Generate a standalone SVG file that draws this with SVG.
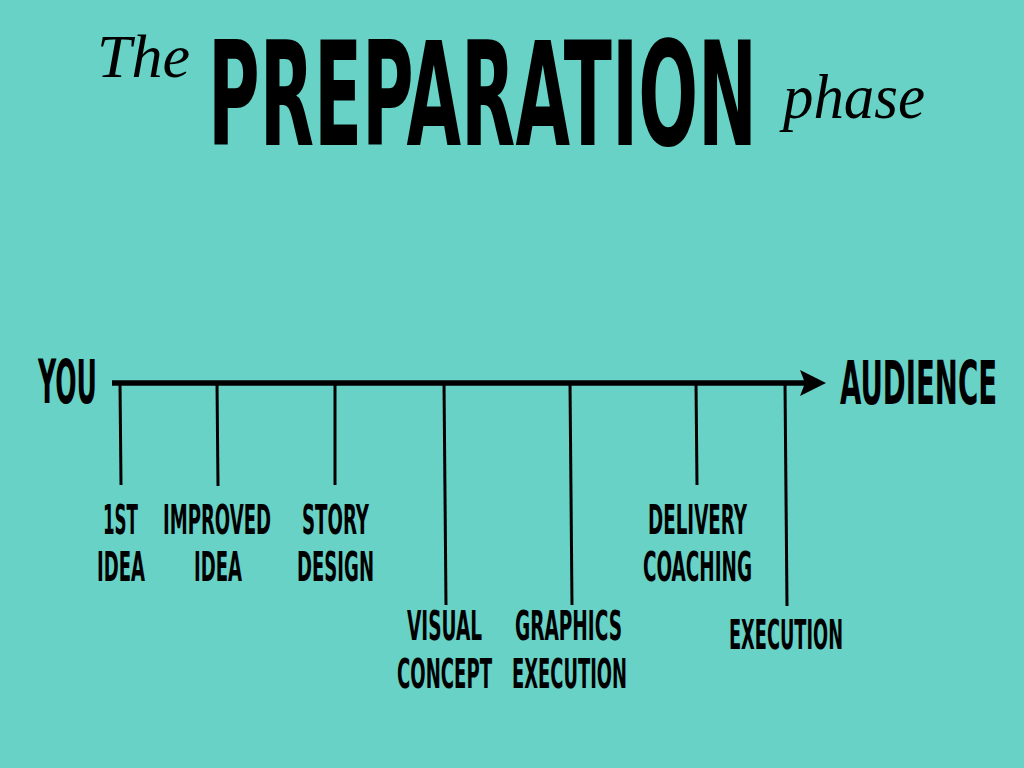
<svg xmlns="http://www.w3.org/2000/svg" width="1024" height="768" viewBox="0 0 1024 768">
<style>
.bg{fill:#67D2C5}
.cond{font-family:"Liberation Sans Narrow","DejaVu Sans Condensed","Liberation Sans",sans-serif;font-weight:bold;fill:#000}
.lbl{font-size:40px}
.big{font-size:60px}
.script{font-family:"Liberation Serif","DejaVu Serif",serif;font-style:italic;fill:#000}
.tick{stroke:#000;stroke-width:3;fill:none}
.axis{stroke:#000;stroke-width:5.5;fill:none}
.head{fill:#000}
</style>
<rect class="bg" x="0" y="0" width="1024" height="768"/>
<g id="title">
<text class="script" x="97" y="77" font-size="62" textLength="93" lengthAdjust="spacingAndGlyphs">The</text>
<text class="cond" transform="translate(208,145) scale(0.53,1)" x="0" y="0" font-size="144" textLength="1036" lengthAdjust="spacingAndGlyphs">PREPARATION</text>
<text class="script" x="783" y="118" font-size="64" textLength="142" lengthAdjust="spacingAndGlyphs">phase</text>
</g>
<g id="connectors">
<line class="axis" x1="112" y1="383" x2="806" y2="383"/>
<path class="head" d="M800,370 L826,383 L800,396 L805,383 Z"/>
<line class="tick" x1="120" y1="383" x2="121" y2="485"/>
<line class="tick" x1="217" y1="383" x2="218" y2="486"/>
<line class="tick" x1="335" y1="383" x2="335" y2="485"/>
<line class="tick" x1="444" y1="383" x2="446" y2="605"/>
<line class="tick" x1="570" y1="383" x2="572" y2="605"/>
<line class="tick" x1="696" y1="383" x2="697" y2="485"/>
<line class="tick" x1="785" y1="383" x2="787" y2="606"/>
</g>
<g id="you"><text class="cond big" transform="translate(38,403) scale(0.5,1)" x="0" y="0" textLength="118" lengthAdjust="spacingAndGlyphs">YOU</text></g>
<g id="audience"><text class="cond big" transform="translate(840,404) scale(0.5,1)" x="0" y="0" font-size="61" textLength="314" lengthAdjust="spacingAndGlyphs">AUDIENCE</text></g>
<g id="n-1st-idea">
<text class="cond lbl" transform="translate(103,534) scale(0.5,1)" x="0" y="0" textLength="70" lengthAdjust="spacingAndGlyphs">1ST</text>
<text class="cond lbl" transform="translate(97,581) scale(0.5,1)" x="0" y="0" textLength="96" lengthAdjust="spacingAndGlyphs">IDEA</text>
</g>
<g id="n-improved-idea">
<text class="cond lbl" transform="translate(163,534) scale(0.5,1)" x="0" y="0" textLength="216" lengthAdjust="spacingAndGlyphs">IMPROVED</text>
<text class="cond lbl" transform="translate(194,581) scale(0.5,1)" x="0" y="0" textLength="96" lengthAdjust="spacingAndGlyphs">IDEA</text>
</g>
<g id="n-story-design">
<text class="cond lbl" transform="translate(302,534) scale(0.5,1)" x="0" y="0" textLength="134" lengthAdjust="spacingAndGlyphs">STORY</text>
<text class="cond lbl" transform="translate(297,581) scale(0.5,1)" x="0" y="0" textLength="154" lengthAdjust="spacingAndGlyphs">DESIGN</text>
</g>
<g id="n-visual-concept">
<text class="cond lbl" transform="translate(407,640) scale(0.5,1)" x="0" y="0" textLength="150" lengthAdjust="spacingAndGlyphs">VISUAL</text>
<text class="cond lbl" transform="translate(397,688) scale(0.5,1)" x="0" y="0" textLength="190" lengthAdjust="spacingAndGlyphs">CONCEPT</text>
</g>
<g id="n-graphics-execution">
<text class="cond lbl" transform="translate(515,640) scale(0.5,1)" x="0" y="0" textLength="214" lengthAdjust="spacingAndGlyphs">GRAPHICS</text>
<text class="cond lbl" transform="translate(512,688) scale(0.5,1)" x="0" y="0" textLength="230" lengthAdjust="spacingAndGlyphs">EXECUTION</text>
</g>
<g id="n-delivery-coaching">
<text class="cond lbl" transform="translate(648,534) scale(0.5,1)" x="0" y="0" textLength="198" lengthAdjust="spacingAndGlyphs">DELIVERY</text>
<text class="cond lbl" transform="translate(643,581) scale(0.5,1)" x="0" y="0" textLength="218" lengthAdjust="spacingAndGlyphs">COACHING</text>
</g>
<g id="n-execution">
<text class="cond lbl" transform="translate(729,649) scale(0.5,1)" x="0" y="0" textLength="228" lengthAdjust="spacingAndGlyphs">EXECUTION</text>
</g>
</svg>
